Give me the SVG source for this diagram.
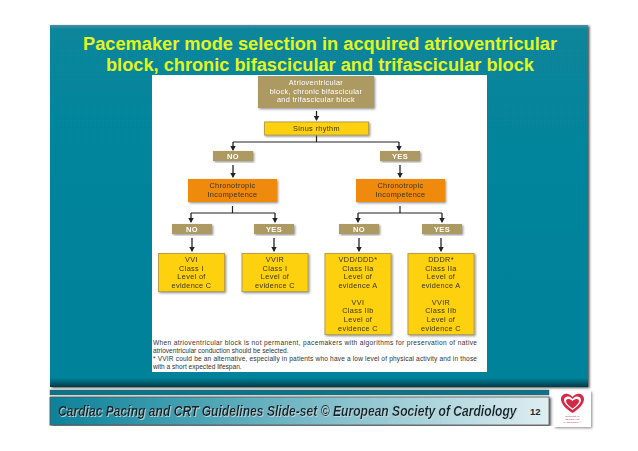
<svg xmlns="http://www.w3.org/2000/svg" width="638" height="451" viewBox="0 0 638 451">
<style>
.n{font-family:"Liberation Sans",sans-serif;text-anchor:middle;font-size:7.300px;letter-spacing:.35px;fill:#3a3320}
.w{fill:#fff}
.b{font-weight:700;font-size:7.500px}
.tan{fill:#ad9a62}
.yel{fill:#fdd10a;stroke:#b9a04a;stroke-width:1}
.org{fill:#f08a0c}
.c{fill:none;stroke:#222;stroke-width:1.300;marker-end:url(#a)}
.p{fill:none;stroke:#222;stroke-width:1.200}
.title{font-family:"Liberation Sans",sans-serif;font-weight:700;font-size:18.800px;fill:#e4f51e;text-anchor:middle}
.note{font-family:"Liberation Sans",sans-serif;font-size:6.600px;fill:#333}
.ft{font-family:"Liberation Sans",sans-serif;font-size:14px;font-weight:700;font-style:italic;fill:#10282e}
</style>
<defs>
<marker id="a" markerWidth="6" markerHeight="6" refX="4" refY="3" orient="auto" markerUnits="userSpaceOnUse"><path d="M0 .3L5 3L0 5.700z" fill="#222"/></marker>
<filter id="s" x="-10%" y="-10%" width="125%" height="130%"><feDropShadow dx="1.200" dy="1.200" stdDeviation="0.800" flood-color="#666" flood-opacity=".7"/></filter>
<filter id="ps" x="-2%" y="-2%" width="104%" height="104%"><feDropShadow dx="1.500" dy="1" stdDeviation="0.800" flood-color="#222" flood-opacity=".8"/></filter>
<filter id="ts" x="-2%" y="-20%" width="104%" height="140%"><feDropShadow dx="1" dy="1" stdDeviation="0.200" flood-color="#c8d8dc" flood-opacity=".9"/></filter>
<linearGradient id="fg" x1="0" x2="1" y1="0" y2="0"><stop offset="0" stop-color="#0b8299"/><stop offset="1" stop-color="#dfeef1"/></linearGradient>
<linearGradient id="pb" x1="0" x2="0" y1="0" y2="1"><stop offset="0" stop-color="#4b8f9c"/><stop offset=".012" stop-color="#07869c"/><stop offset=".975" stop-color="#04829a"/><stop offset="1" stop-color="#063a46"/></linearGradient>
</defs>
<rect width="638" height="451" fill="#fff"/>
<rect id="panel" x="50" y="25" width="538" height="362" fill="url(#pb)" filter="url(#ps)"/>
<text class="title" x="320" y="49.500" textLength="474" lengthAdjust="spacingAndGlyphs">Pacemaker mode selection in acquired atrioventricular</text>
<text class="title" x="320" y="70.500" textLength="428" lengthAdjust="spacingAndGlyphs">block, chronic bifascicular and trifascicular block</text>
<rect id="figure" x="152" y="75" width="335" height="297" fill="#fff"/>
<g id="connectors">
<path class="c" d="M316.500 111V120"/>
<path class="p" d="M316.500 135V142M233 142H399"/>
<path class="c" d="M233 142V150"/><path class="c" d="M399 142V150"/>
<path class="c" d="M233 165V177"/><path class="c" d="M400 165V177"/>
<path class="p" d="M232.500 206V213M191 213H275"/>
<path class="c" d="M191 213V222"/><path class="c" d="M275 213V222"/>
<path class="p" d="M400 206V213M358 213H442"/>
<path class="c" d="M358 213V222"/><path class="c" d="M442 213V222"/>
<path class="c" d="M192 238V251"/><path class="c" d="M274 238V251"/><path class="c" d="M359 238V251"/><path class="c" d="M441 238V251"/>
</g>
<g id="root" filter="url(#s)"><rect class="tan" x="258" y="76" width="116" height="32"/><text class="n w" x="316" y="85.400">Atrioventricular</text><text class="n w" x="316" y="93.800">block, chronic bifascicular</text><text class="n w" x="316" y="102.200">and trifascicular block</text></g>
<g id="sinus" filter="url(#s)"><rect class="yel" x="264.500" y="122" width="104" height="13"/><text class="n" x="316.500" y="131.300">Sinus rhythm</text></g>
<g id="no1" filter="url(#s)"><rect class="tan" x="213" y="151" width="40" height="10"/><text class="n w b" x="233" y="158.800">NO</text></g>
<g id="yes1" filter="url(#s)"><rect class="tan" x="380" y="151" width="40" height="10"/><text class="n w b" x="400" y="158.800">YES</text></g>
<g id="chrono1" filter="url(#s)"><rect class="org" x="188" y="179" width="89" height="23"/><text class="n" x="232.500" y="188.200">Chronotropic</text><text class="n" x="232.500" y="196.800">Incompetence</text></g>
<g id="chrono2" filter="url(#s)"><rect class="org" x="356" y="179" width="89" height="23"/><text class="n" x="400.500" y="188.200">Chronotropic</text><text class="n" x="400.500" y="196.800">Incompetence</text></g>
<g id="no2" filter="url(#s)"><rect class="tan" x="172" y="224" width="40" height="10"/><text class="n w b" x="192" y="232">NO</text></g>
<g id="yes2" filter="url(#s)"><rect class="tan" x="254" y="224" width="40" height="10"/><text class="n w b" x="274" y="232">YES</text></g>
<g id="no3" filter="url(#s)"><rect class="tan" x="339" y="224" width="40" height="10"/><text class="n w b" x="359" y="232">NO</text></g>
<g id="yes3" filter="url(#s)"><rect class="tan" x="422" y="224" width="40" height="10"/><text class="n w b" x="442" y="232">YES</text></g>
<g id="vvi" filter="url(#s)"><rect class="yel" x="158.500" y="253.500" width="66" height="38"/><text class="n" x="191.500" y="262">VVI</text><text class="n" x="191.500" y="270.700">Class I</text><text class="n" x="191.500" y="279.400">Level of</text><text class="n" x="191.500" y="288.100">evidence C</text></g>
<g id="vvir" filter="url(#s)"><rect class="yel" x="242" y="253.500" width="66" height="38"/><text class="n" x="275" y="262">VVIR</text><text class="n" x="275" y="270.700">Class I</text><text class="n" x="275" y="279.400">Level of</text><text class="n" x="275" y="288.100">evidence C</text></g>
<g id="vdd" filter="url(#s)"><rect class="yel" x="325" y="253.500" width="66" height="81"/><text class="n" x="358" y="262">VDD/DDD*</text><text class="n" x="358" y="270.700">Class IIa</text><text class="n" x="358" y="279.400">Level of</text><text class="n" x="358" y="288.100">evidence A</text><text class="n" x="358" y="304.700">VVI</text><text class="n" x="358" y="313.400">Class IIb</text><text class="n" x="358" y="322.100">Level of</text><text class="n" x="358" y="330.800">evidence C</text></g>
<g id="ddd" filter="url(#s)"><rect class="yel" x="408" y="253.500" width="66" height="81"/><text class="n" x="441" y="262">DDDR*</text><text class="n" x="441" y="270.700">Class IIa</text><text class="n" x="441" y="279.400">Level of</text><text class="n" x="441" y="288.100">evidence A</text><text class="n" x="441" y="304.700">VVIR</text><text class="n" x="441" y="313.400">Class IIb</text><text class="n" x="441" y="322.100">Level of</text><text class="n" x="441" y="330.800">evidence C</text></g>
<text class="note" x="153" y="344.500" textLength="324">When atrioventricular block is not permanent, pacemakers with algorithms for preservation of native</text>
<text class="note" x="153" y="352.500">atrioventricular conduction should be selected.</text>
<text class="note" x="153" y="360.500" textLength="324">* VVIR could be an alternative, especially in patients who have a low level of physical activity and in those</text>
<text class="note" x="153" y="368.500">with a short expected lifespan.</text>
<rect x="50" y="390" width="499" height="5" fill="#0a7488" stroke="#555" stroke-width=".5"/>
<rect id="footer" x="50" y="397" width="499" height="28" fill="url(#fg)" stroke="#555" stroke-width=".8" filter="url(#ps)"/>
<text class="ft" transform="translate(58 416) scale(.865 1)" filter="url(#ts)">Cardiac Pacing and CRT Guidelines Slide-set © European Society of Cardiology</text>
<text x="530" y="414.500" font-family="Liberation Sans, sans-serif" font-size="9.500" font-weight="700" fill="#1a2a30">12</text>
<g id="logo"><rect x="554" y="391" width="37" height="36" fill="#fff" filter="url(#s)"/><path d="M572.500 413C566 409 561 404 561 399C561 395 565 393 568 394C570 394.500 571.500 395.500 572.500 397C573.500 395.500 575 394.500 577 394C580 393 584 395 584 399C584 404 579 409 572.500 413z" fill="#d42a45"/><path d="M572.500 410C568 407 564 403 564 400C564 397 567 396 569 396.500C570.500 397 571.500 398 572.500 399C573.500 398 574.500 397 576 396.500C578 396 581 397 581 400C581 403 577 407 572.500 410z" fill="#fff"/><path d="M572.500 408.500C568.500 406 566 403 566 401C566 399 569 398 572.500 401C576 398 579 399 579 401C579 403 576.500 406 572.500 408.500z" fill="#d42a45"/><g font-family="Liberation Sans,sans-serif" font-size="2.500" fill="#c23a50" text-anchor="middle"><text x="572.500" y="417">EUROPEAN</text><text x="572.500" y="420">SOCIETY OF</text><text x="572.500" y="423">CARDIOLOGY®</text></g></g>
</svg>
